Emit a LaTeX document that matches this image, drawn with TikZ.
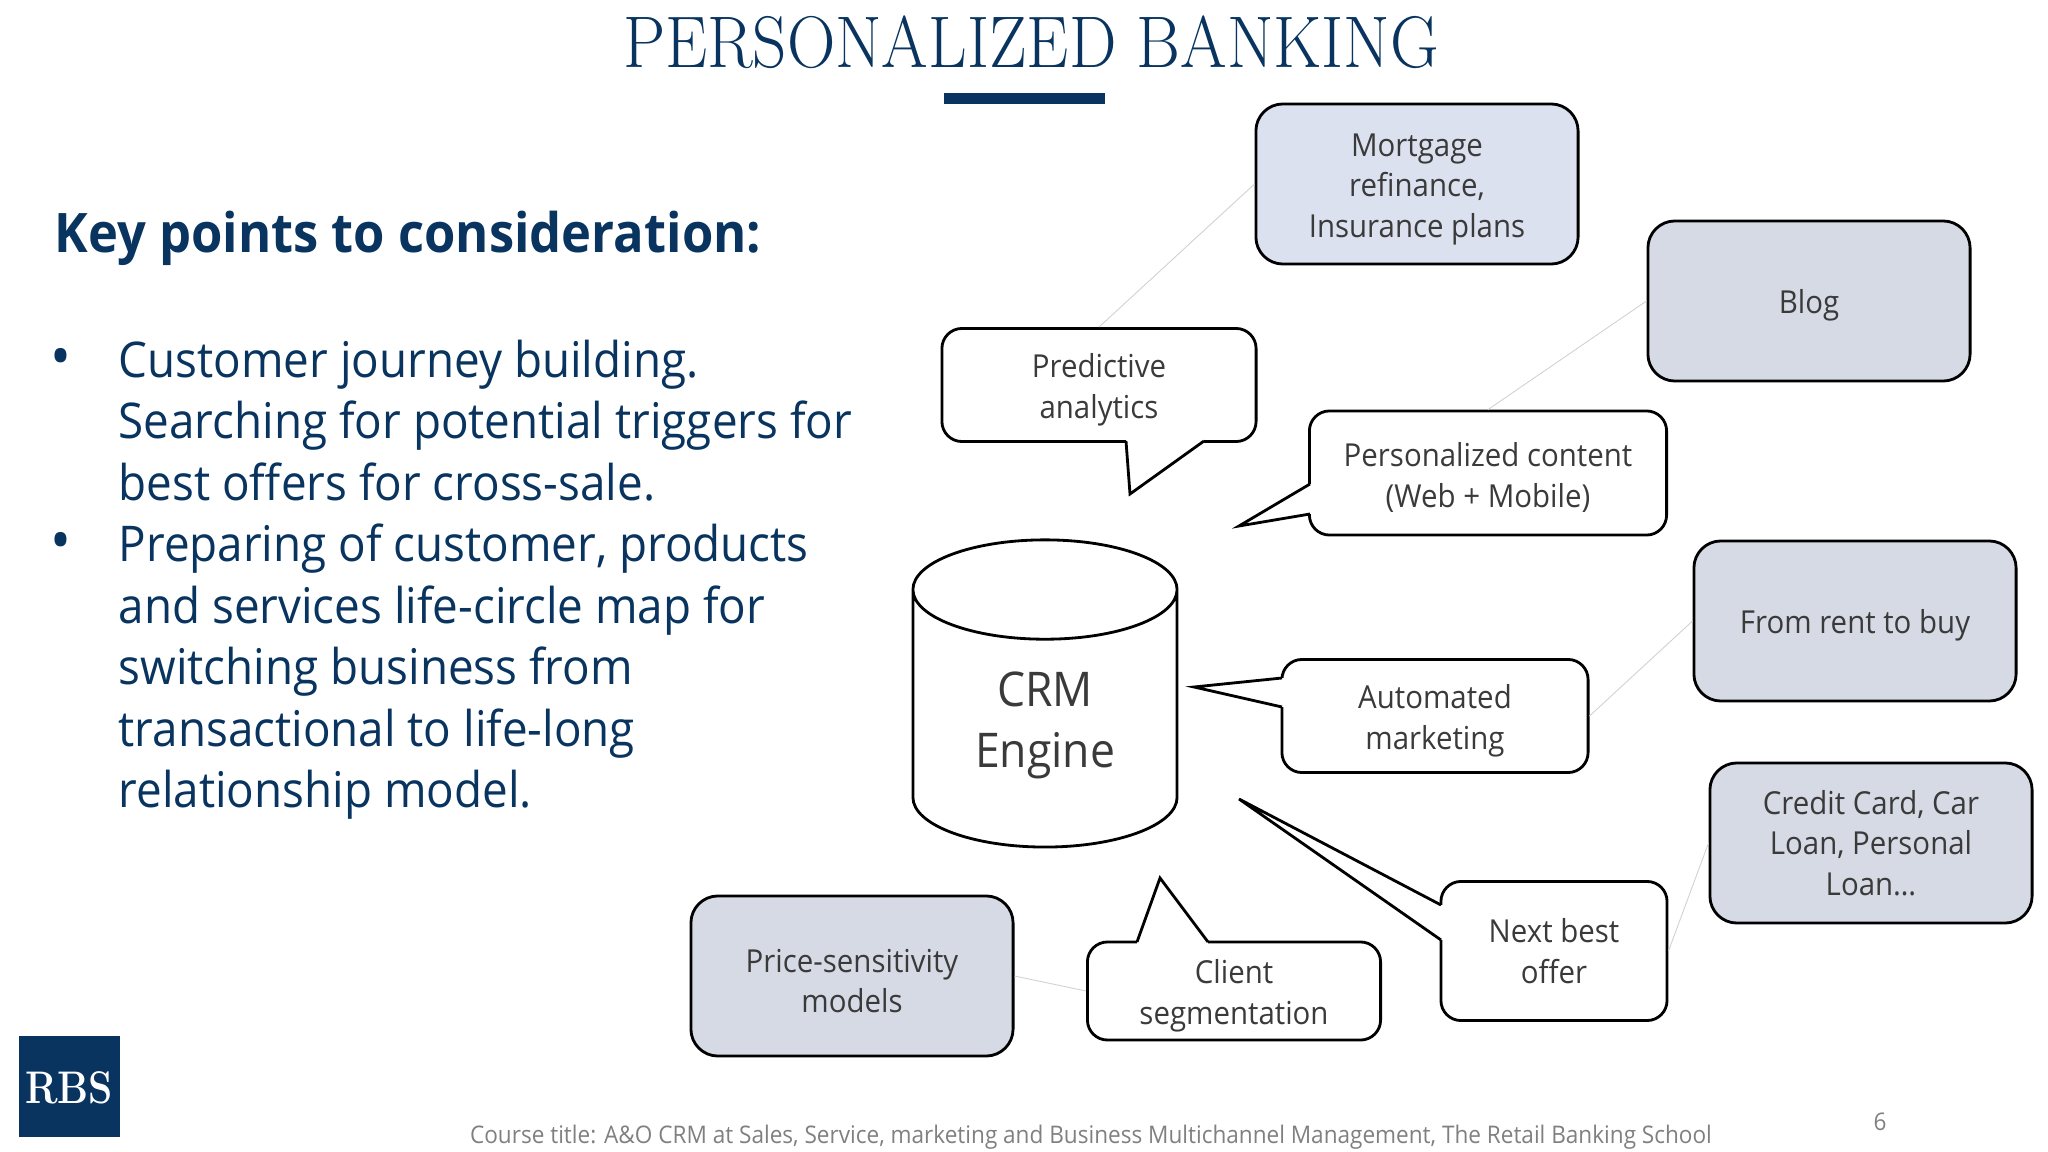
\documentclass[tikz,border=0pt]{standalone}
\usepackage{fontspec}
\setsansfont[FakeStretch=0.93]{Open Sans}
\usetikzlibrary{shapes.geometric}
\definecolor{navy}{HTML}{08345F}
\definecolor{ink}{HTML}{3A3A3A}
\definecolor{paleblue}{HTML}{DCE1F0}
\definecolor{palegrey}{HTML}{D6DAE4}
% keeps the box text a little below the middle
\newcommand{\drop}{\rule{0pt}{9.5pt}}
% draws the pointer of a speech box over its border
\newcommand{\calloutTail}[3]{
  \draw[white, line width=1.2pt] #1 -- #3;
  \fill[white] #1 -- #2 -- #3 -- cycle;
  \draw[line width=0.8pt, line join=miter] #1 -- #2 -- #3;
}
\begin{document}
\begin{tikzpicture}[x=0.01cm, y=-0.01cm,
      every node/.style = {align=center, inner sep=0pt},
      sidebox/.style = {shape=rectangle, rounded corners=0.27cm, draw=black,
        line width=0.8pt, minimum width=3.22cm, minimum height=1.6cm,
        text=ink, font=\sffamily\fontsize{9}{11.5}\selectfont},
      topicbox/.style = {sidebox, fill=palegrey},
      talkbox/.style = {sidebox, fill=white, rounded corners=0.2cm},
      link/.style = {draw=black!18, line width=0.25pt}]
      \useasboundingbox (0,0) rectangle (2048,1152);

      % title and left column
      \node[text=navy, font=\fontsize{20.8}{24}\selectfont, xscale=0.917] (title) at (1031,42) {PERSONALIZED BANKING};
      \fill[navy] (944,93) rectangle (1105,104);
      \node[anchor=west, text=navy, font=\sffamily\bfseries\fontsize{15.5}{18}\selectfont] (heading) at (54,238) {Key points to consideration:};
      \node[anchor=north west, align=left, text=navy,
        font=\sffamily\fontsize{14}{17.5}\selectfont] (points) at (118,339) {Customer journey building.\\
        Searching for potential triggers for\\
        best offers for cross-sale.\\
        Preparing of customer, products\\
        and services life-circle map for\\
        switching business from\\
        transactional to life-long\\
        relationship model.};
      \node[text=navy, font=\sffamily\fontsize{17}{17.5}\selectfont] (bulletA) at (61,363) {•};
      \node[text=navy, font=\sffamily\fontsize{17}{17.5}\selectfont] (bulletB) at (61,547) {•};

      % engine
      \node[draw=black, line width=0.8pt, shape=cylinder, shape border rotate=90, aspect=0.71,
        minimum width=2.64cm, minimum height=3.07cm, text=ink,
        font=\sffamily\fontsize{13.6}{17.5}\selectfont] (engine) at (1045,719) {\rule{0pt}{13.5pt}CRM\\Engine};

      % speech boxes
      \node[talkbox, minimum width=3.14cm, minimum height=1.13cm] (predictive) at (1099,385) {\drop Predictive\\analytics};
      \node[talkbox, minimum width=3.57cm, minimum height=1.24cm] (content) at (1488,473) {\drop Personalized content\\(Web + Mobile)};
      \node[talkbox, minimum width=3.06cm, minimum height=1.13cm] (marketing) at (1435,716) {\drop Automated\\marketing};
      \node[talkbox, minimum width=2.26cm, minimum height=1.39cm] (offer) at (1554,951) {Next best\\offer};
      \node[talkbox, minimum width=2.93cm, minimum height=0.98cm] (segments) at (1234,991) {\drop Client\\segmentation};

      \coordinate (predictiveTip) at (1130,494);
      \coordinate (contentTip) at (1239,526);
      \coordinate (marketingTip) at (1194,687);
      \coordinate (offerTip) at (1239,799);
      \coordinate (segmentsTip) at (1160,878);
      \calloutTail{(1126,441)}{(predictiveTip)}{(1204,441)}
      \calloutTail{(1310,484)}{(contentTip)}{(1310,514)}
      \calloutTail{(1282,678)}{(marketingTip)}{(1282,707)}
      \calloutTail{(1441,905)}{(offerTip)}{(1441,940)}
      \calloutTail{(1137,942)}{(segmentsTip)}{(1208,942)}

      % grey boxes
      \node[sidebox, fill=paleblue] (mortgage) at (1417,184) {\drop Mortgage\\refinance,\\Insurance plans};
      \node[topicbox] (blog) at (1809,301) {\drop Blog};
      \node[topicbox] (rent) at (1855,621) {\drop From rent to buy};
      \node[topicbox] (credit) at (1871,843) {Credit Card, Car\\Loan, Personal\\Loan…};
      \node[topicbox] (price) at (852,976) {\drop Price-sensitivity\\models};

      \draw[link] (predictive.north) -- (mortgage.west);
      \draw[link] (content.north) -- (blog.west);
      \draw[link] (marketing.east) -- (rent.west);
      \draw[link] (offer.east) -- (credit.west);
      \draw[link] (segments.west) -- (price.east);

      % footer
      \fill[navy] (19,1036) rectangle (120,1137);
      \node[text=white, xscale=0.85, font=\bfseries\fontsize{13}{14}\selectfont] (logo) at (69,1088) {RBS};
      \node[text=black!50, font=\sffamily\fontsize{6.9}{8}\selectfont] (course) at (1091,1137) {Course title: A\&O CRM at Sales, Service, marketing and Business Multichannel Management, The Retail Banking School};
      \node[text=black!50, font=\sffamily\fontsize{6.9}{8}\selectfont] (page) at (1880,1122) {6};
\end{tikzpicture}
\end{document}
